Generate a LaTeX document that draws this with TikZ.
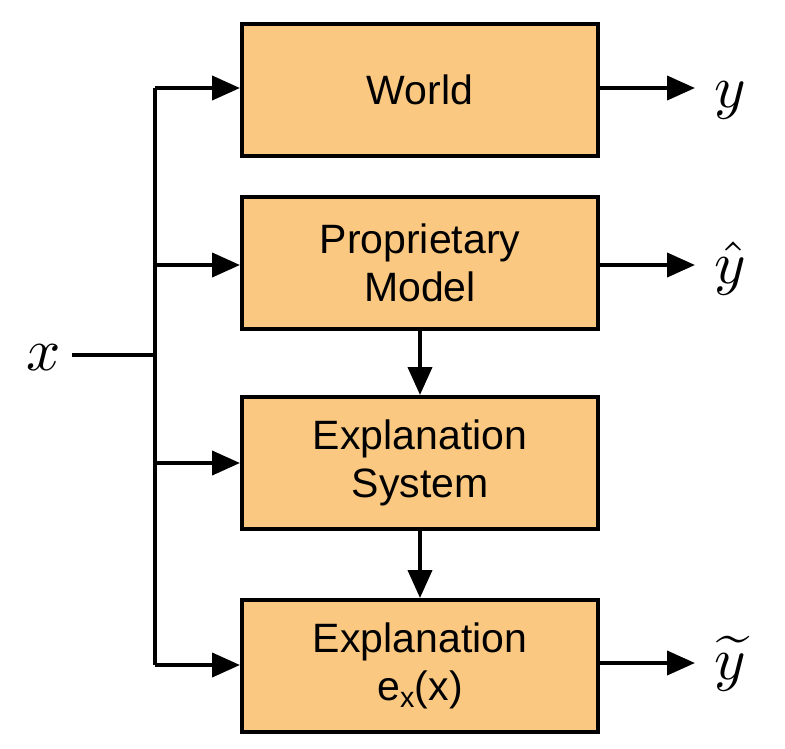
\documentclass[tikz,border=0pt]{standalone}
\usepackage{fontspec}
\setmainfont{Liberation Sans}
\usetikzlibrary{arrows.meta}
\begin{document}
\begin{tikzpicture}[x=1pt,y=-1pt,
  blk/.style={draw,line width=4pt,fill={rgb,255:red,250;green,200;blue,128},minimum width=356pt,minimum height=132pt,align=center,font=\fontsize{41}{48}\selectfont,inner sep=0pt},
  ln/.style={line width=4pt},
  ar/.style={line width=4pt,-{Triangle[length=28pt,width=24pt]}},
  lab/.style={inner sep=0pt}]
\useasboundingbox (0,0) rectangle (785,748);
\node[blk] (w) at (420,90) {World};
\node[blk] (p) at (420,263) {Proprietary\\Model};
\node[blk] (s) at (420,463) {Explanation\\System};
\node[blk] (e) at (420,666) {Explanation\\e$_{\mathrm x}$(x)};
\node[lab] (x) at (44,358) {\scalebox{6}{$x$}};
\coordinate (j) at (155,355);
\coordinate (t) at (155,88);
\coordinate (b) at (155,665);
\draw[ln] (72,355) -- (j);
\draw[ln] (t) -- (b);
\draw[ar] (t) -- (w.west|-t);
\draw[ar] (155,265) -- (p.west|-0,265);
\draw[ar] (155,463) -- (s.west|-0,463);
\draw[ar] (b) -- (e.west|-b);
\draw[ar] (p) ++(0,67) -- (s.north);
\draw[ar] (s) ++(0,67) -- (e.north);
\node[lab] (y1) at (730,100) {\scalebox{6}{$y$}};
\node[lab] (y2) at (730,268) {\scalebox{6}{$\hat y$}};
\node[lab] (y3) at (730,664) {\scalebox{6}{$\widetilde y$}};
\draw[ar] (w.east|-0,88) -- (695,88);
\draw[ar] (p.east|-0,265) -- (695,265);
\draw[ar] (e.east|-0,663) -- (695,663);
\end{tikzpicture}
\end{document}
